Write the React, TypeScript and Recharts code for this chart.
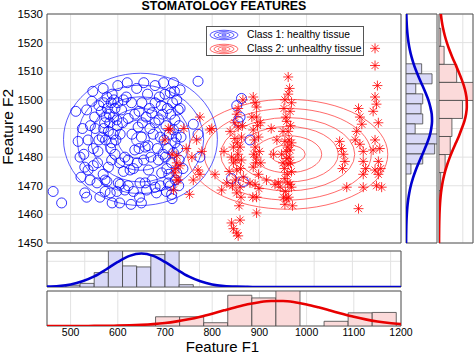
import {
  Bar,
  BarChart,
  CartesianGrid,
  Line,
  LineChart,
  ReferenceArea,
  Scatter,
  ScatterChart,
  XAxis,
  YAxis,
} from "recharts";

const FONT = '"Liberation Sans", Arial, Helvetica, sans-serif';
const GRID = "#e2e2e2";
const FRAME = "#555555";
const BLUE = "#0000ff";
const RED = "#ff0000";
const BLUE_LINE = "#0000d0";
const RED_LINE = "#e80000";
const BLUE_FILL = "#d9d9f7";
const RED_FILL = "#fbdada";

const X_TICKS = [500, 600, 700, 800, 900, 1000, 1100, 1200];
const Y_TICKS = [1450, 1460, 1470, 1480, 1490, 1500, 1510, 1520, 1530];
const BLUE_HIST_GRID = [530, 611, 692, 773, 854, 935, 1016, 1097, 1178];

// class 1, circles
const classOne: [number, number][] = [
  [718, 1506], [732, 1503.5], [711, 1502.5], [725, 1500], [728, 1496.5], [721, 1493],
  [718, 1489.5], [721, 1485], [718, 1481.5], [714, 1478], [725, 1474.5], [711, 1470],
  [714, 1467], [707, 1471], [697, 1506], [705, 1497], [712, 1495], [730, 1491],
  [709, 1488], [727, 1483], [706, 1483], [730, 1479], [704, 1476], [729, 1470],
  [722, 1472], [716, 1499], [700, 1502], [734, 1487], [702, 1491], [715, 1465.5],
  [679, 1505], [679, 1499], [672, 1495.5], [679, 1492], [686, 1479], [693, 1474.5],
  [679, 1469.5], [682, 1467.5], [690, 1487], [684, 1483], [695, 1495], [688, 1501],
  [675, 1488], [696, 1481],
  [640, 1504], [629, 1499], [651, 1499], [643, 1490.5], [658, 1483.5], [665, 1475.5],
  [658, 1471], [636, 1482.5], [615, 1480], [626, 1475.5], [608, 1496.5], [622, 1493.5],
  [630, 1488], [633, 1468], [661, 1468.5], [647, 1471], [615, 1468.5], [622, 1470],
  [660, 1494], [650, 1487], [641, 1478], [655, 1479], [645, 1496], [663, 1502],
  [618, 1501], [628, 1463.5], [650, 1464], [620, 1506], [655, 1506], [600, 1505],
  [569, 1504], [587, 1479], [580, 1476.5], [573, 1472], [601, 1471], [587, 1485],
  [598, 1493], [569, 1474], [573, 1468], [598, 1468], [584, 1467.5], [577, 1471.5],
  [605, 1470.5], [562, 1466], [570, 1499], [578, 1497], [586, 1499], [594, 1497],
  [575, 1494], [583, 1492], [591, 1494], [599, 1491], [570, 1490], [580, 1489],
  [590, 1488], [596, 1486], [574, 1486], [600, 1499], [588, 1502], [577, 1501],
  [511, 1496], [530, 1476.5], [520, 1480], [516, 1485.5], [537, 1486], [534, 1496.5],
  [545, 1499.5], [537, 1475.5], [541, 1472], [534, 1466], [530, 1467.5], [552, 1490],
  [548, 1483], [557, 1478], [551, 1494], [560, 1486], [556, 1471], [525, 1490],
  [547, 1503],
  [565, 1496], [572, 1492], [582, 1495], [592, 1500], [567, 1487], [585, 1483],
  [594, 1481], [605, 1488], [610, 1492], [604, 1478], [612, 1475], [622, 1479],
  [633, 1476], [645, 1483], [652, 1492], [668, 1490], [664, 1484], [670, 1480],
  [673, 1472], [687, 1493], [692, 1498], [698, 1486], [701, 1480], [708, 1474],
  [724, 1487], [732, 1497], [720, 1503], [703, 1468], [738, 1476], [690, 1470],
  [646, 1466], [604, 1464], [588, 1464], [560, 1498], [542, 1491], [528, 1481],
  [522, 1473], [548, 1477], [558, 1482], [667, 1497], [636, 1495], [612, 1500],
  [463, 1468], [481, 1464], [770, 1506.5], [760, 1491.5], [770, 1488], [774, 1480],
  [862, 1500.5], [852, 1498], [859, 1494], [855, 1492.5], [880, 1486], [866, 1471.5],
  [841, 1472.5],
];

// class 2, asterisks
const classTwo: [number, number][] = [
  [707, 1490], [725, 1478], [732, 1477], [725, 1480.5], [728, 1472], [718, 1468.5],
  [711, 1489.5], [721, 1474.5], [725, 1472], [715, 1481], [700, 1486], [722, 1476],
  [774, 1494], [767, 1486], [778, 1482], [770, 1475.5], [774, 1474], [760, 1472],
  [757, 1480], [745, 1483], [740, 1490], [752, 1467],
  [799, 1490], [806, 1474], [820, 1468.5], [795, 1489.5], [825, 1482], [831, 1471],
  [852, 1495], [855, 1490.5], [848, 1486.5], [859, 1483.5], [841, 1480], [862, 1479],
  [852, 1475.5], [866, 1473], [859, 1469.5], [852, 1467.5], [845, 1483.5], [855, 1497],
  [862, 1487], [845, 1478], [855, 1481], [849, 1472], [860, 1476], [853, 1485],
  [841, 1457], [852, 1453.5], [859, 1458], [845, 1455], [855, 1452.5], [880, 1471],
  [848, 1492], [865, 1500], [857, 1463], [838, 1489], [864, 1491], [850, 1479],
  [843, 1470], [861, 1466], [836, 1475],
  [891, 1499], [894, 1494], [887, 1489.5], [898, 1487], [891, 1483.5], [894, 1480],
  [887, 1476.5], [898, 1474], [891, 1470.5], [894, 1466], [894, 1460.5], [915, 1472],
  [887, 1501], [894, 1497.5], [892, 1478], [889, 1486], [896, 1491], [899, 1469],
  [886, 1466], [900, 1482], [930, 1481], [925, 1490], [884, 1494], [903, 1478],
  [888, 1481], [902, 1492],
  [961, 1508], [961, 1502], [954, 1500], [965, 1496], [958, 1492.5], [961, 1489],
  [954, 1485.5], [965, 1482.5], [958, 1479.5], [961, 1477.5], [968, 1475], [954, 1472.5],
  [965, 1470.5], [958, 1465.5], [954, 1463.5], [944, 1469.5], [968, 1469.5], [937, 1486],
  [956, 1494], [963, 1486], [957, 1482], [959, 1474], [963, 1480], [950, 1478],
  [966, 1491], [955, 1468], [962, 1466], [950, 1489], [968, 1485], [940, 1471],
  [933, 1470.5], [952, 1497], [968, 1499], [960, 1483.5], [953, 1476], [966, 1478],
  [960, 1471], [951, 1466], [970, 1463], [947, 1481], [964, 1504],
  [1074, 1483], [1078, 1481], [1081, 1478.5], [1085, 1469.5], [1070, 1485.5], [1076, 1476],
  [1113, 1494], [1117, 1491.5], [1106, 1489], [1113, 1484.5], [1120, 1482], [1120, 1478.5],
  [1120, 1474], [1120, 1469.5], [1110, 1462], [1110, 1497], [1103, 1486], [1125, 1476],
  [1145, 1518], [1145, 1512], [1145, 1501], [1148, 1498.5], [1141, 1496], [1152, 1492],
  [1145, 1486], [1141, 1482.5], [1152, 1478.5], [1145, 1475.5], [1152, 1474], [1159, 1469.5],
  [1150, 1505], [1155, 1483], [1148, 1470], [1157, 1476],
];

// contour ellipses: centre + semi-axes in data units
const blueCentre = [648, 1486.2];
const blueRx = [163, 134, 105, 76, 48, 19];
const blueRy = [23.1, 19, 14.9, 10.8, 6.8, 2.7];
const redCentre = [960, 1481];
const redRx = [212, 177, 142, 107, 72, 37];
const redRy = [19.2, 16, 12.8, 9.7, 6.5, 3.3];

// bottom histograms (feature F1)
const f1BinsBlue = [505, 535, 565, 595, 625, 655, 685, 715, 745];
const f1CountsBlue = [0.7, 1.4, 5.6, 14, 8.2, 7.8, 12.6, 14, 0.9];
const f1BinsRed = [705.5, 756.5, 807.5, 858.5, 909.5, 960.5, 1011.5, 1062.5, 1113.5, 1164.5];
const f1CountsRed = [12.4, 12.4, 4.4, 41.3, 37.7, 47, 0, 6.3, 17.7, 18.2];

const f1CurveX = [
  450, 475, 500, 525, 550, 575, 600, 625, 650, 675, 700, 725, 750, 775, 800, 825,
  850, 875, 900, 925, 950, 975, 1000, 1025, 1050, 1075, 1100, 1125, 1150, 1175, 1200,
];
const f1CurveBlue = [
  0.13, 0.39, 0.98, 2.2, 4.1, 6.8, 9.75, 12.1, 13, 12.1, 9.75, 6.8, 4.1, 2.2, 0.98, 0.39,
  0.13, 0.04, 0.01, 0, 0, 0, 0, 0, 0, 0, 0, 0, 0, 0, 0,
];
const f1CurveRed = [
  0, 0.01, 0.02, 0.05, 0.12, 0.24, 0.46, 0.85, 1.5, 2.5, 4, 6.2, 9, 12.5, 16.6, 21,
  25.3, 29.2, 32, 33.5, 33.5, 31.9, 29, 25.1, 20.8, 16.4, 12.3, 8.9, 6.1, 4, 2.5,
];

// side histograms (feature F2)
const f2BinsBlue = [1469.15, 1472.65, 1476.15, 1479.65, 1483.15, 1486.65, 1490.15, 1493.65, 1497.15, 1500.65, 1504.15];
const f2CountsBlue = [10.1, 16.8, 6.3, 10.8, 9.7, 10.8, 5.9, 20, 18.5, 10.8, 3.2];
const f2BinsRed = [1458.15, 1464.45, 1470.75, 1477.05, 1483.35, 1489.65, 1495.95, 1502.25, 1508.55, 1514.85];
const f2CountsRed = [1, 3, 10.4, 20, 13.8, 7.6, 6.6, 3.6, 1, 0.6];

const f2CurveY = [
  1450, 1452.5, 1455, 1457.5, 1460, 1462.5, 1465, 1467.5, 1470, 1472.5, 1475, 1477.5,
  1480, 1482.5, 1485, 1487.5, 1490, 1492.5, 1495, 1497.5, 1500, 1502.5, 1505, 1507.5,
  1510, 1512.5, 1515, 1517.5, 1520, 1522.5, 1525, 1527.5, 1530,
];
const f2CurveBlue = [
  0.21, 0.37, 0.63, 1.04, 1.63, 2.46, 3.57, 4.97, 6.66, 8.57, 10.6, 12.6, 14.4, 15.7,
  16.6, 16.8, 16.3, 15.3, 13.7, 11.8, 9.8, 7.8, 5.96, 4.38, 3.09, 2.1, 1.37, 0.86, 0.52,
  0.3, 0.17, 0.09, 0.05,
];
const f2CurveRed = [
  1.08, 1.63, 2.39, 3.38, 4.62, 6.09, 7.77, 9.58, 11.4, 13.1, 14.6, 15.7, 16.3, 16.35,
  15.9, 14.9, 13.4, 11.8, 9.95, 8.1, 6.4, 4.89, 3.6, 2.57, 1.77, 1.17, 0.75, 0.47, 0.28,
  0.16, 0.09, 0.05, 0.03,
];

const toPts = (arr: [number, number][]) => arr.map(([x, y]) => ({ x, y }));
const binRows = (c: number[], n: number[]) => c.map((x, i) => ({ x, n: n[i] }));
const sideRows = (c: number[], n: number[]) => c.map((y, i) => ({ y, w: n[i] }));

function Ring(p: any) {
  return <circle cx={p.cx} cy={p.cy} r={5} fill="none" stroke={BLUE} strokeWidth={0.8} />;
}

function Star(p: any) {
  const { cx, cy } = p;
  const r = 5;
  const d = 3.5;
  return (
    <path
      d={`M${cx - r},${cy}H${cx + r}M${cx},${cy - r}V${cy + r}M${cx - d},${cy - d}L${cx + d},${cy + d}M${cx - d},${cy + d}L${cx + d},${cy - d}`}
      stroke={RED}
      strokeWidth={0.8}
      fill="none"
    />
  );
}

const ellipseShape = (color: string) => (p: any) => (
  <ellipse
    cx={p.x + p.width / 2}
    cy={p.y + p.height / 2}
    rx={Math.abs(p.width) / 2}
    ry={Math.abs(p.height) / 2}
    fill="none"
    stroke={color}
    strokeWidth={0.8}
  />
);

const tickFont = { fontSize: 11.5, fill: "#000", fontFamily: FONT };

function LegendIcon({ color }: { color: string }) {
  return (
    <svg width={32} height={12} style={{ display: "block" }}>
      {[14, 10, 6, 2.5].map((rx, i) => (
        <ellipse key={i} cx={16} cy={6} rx={rx} ry={rx * 0.34} fill="none" stroke={color} strokeWidth={0.8} />
      ))}
    </svg>
  );
}

export default function App() {
  const f1Blue = binRows(f1BinsBlue, f1CountsBlue);
  const f1Red = binRows(f1BinsRed, f1CountsRed);
  const f1Curves = f1CurveX.map((x, i) => ({ x, b: f1CurveBlue[i], r: f1CurveRed[i] }));
  const f2Blue = sideRows(f2BinsBlue, f2CountsBlue);
  const f2Red = sideRows(f2BinsRed, f2CountsRed);
  const f2Curves = f2CurveY.map((y, i) => ({ y, b: f2CurveBlue[i], r: f2CurveRed[i] }));
  const px = 354 / 750;

  return (
    <div style={{ position: "absolute", left: 0, top: 0, width: 474, height: 354, background: "#fff", fontFamily: FONT, overflow: "hidden" }}>
      {/* main scatter */}
      <div style={{ position: "absolute", left: 0, top: 0 }}>
        <ScatterChart width={402} height={254} margin={{ top: 14, right: 1, bottom: 11, left: 0 }}>
          <CartesianGrid stroke={GRID} />
          <XAxis type="number" dataKey="x" domain={[450, 1200]} ticks={X_TICKS} hide allowDataOverflow />
          <YAxis
            type="number"
            dataKey="y"
            domain={[1450, 1530]}
            ticks={Y_TICKS}
            interval={0}
            width={47}
            tickSize={0}
            tickMargin={4}
            axisLine={false}
            tickLine={false}
            tick={tickFont}
            allowDataOverflow
          />
          {blueRx.map((rx, i) => (
            <ReferenceArea
              key={`b${i}`}
              x1={blueCentre[0] - rx}
              x2={blueCentre[0] + rx}
              y1={blueCentre[1] - blueRy[i]}
              y2={blueCentre[1] + blueRy[i]}
              shape={ellipseShape("#3030ff")}
            />
          ))}
          {redRx.map((rx, i) => (
            <ReferenceArea
              key={`r${i}`}
              x1={redCentre[0] - rx}
              x2={redCentre[0] + rx}
              y1={redCentre[1] - redRy[i]}
              y2={redCentre[1] + redRy[i]}
              shape={ellipseShape("#ff4545")}
            />
          ))}
          <Scatter data={toPts(classOne)} shape={Ring} isAnimationActive={false} />
          <Scatter data={toPts(classTwo)} shape={Star} isAnimationActive={false} />
          <ReferenceArea x1={450} x2={1200} y1={1450} y2={1530} fill="none" stroke={FRAME} strokeWidth={1} ifOverflow="visible" />
        </ScatterChart>
      </div>

      {/* bottom: class 1 on F1 */}
      <div style={{ position: "absolute", left: 0, top: 250 }}>
        <BarChart width={474} height={38} data={f1Blue} margin={{ top: 1, right: 73, bottom: 1, left: 47 }}>
          <CartesianGrid stroke={GRID} />
          <XAxis type="number" dataKey="x" domain={[450, 1200]} ticks={BLUE_HIST_GRID} hide allowDataOverflow />
          <YAxis type="number" domain={[0, 14]} ticks={[10]} hide allowDataOverflow />
          <Bar dataKey="n" barSize={30 * px - 0.02} fill={BLUE_FILL} stroke="#444" strokeWidth={0.8} isAnimationActive={false} />
          <ReferenceArea x1={450} x2={1200} y1={0} y2={14} fill="none" stroke={FRAME} ifOverflow="visible" />
        </BarChart>
      </div>
      <div style={{ position: "absolute", left: 0, top: 250 }}>
        <LineChart width={474} height={38} data={f1Curves} margin={{ top: 1, right: 73, bottom: 1, left: 47 }}>
          <XAxis type="number" dataKey="x" domain={[450, 1200]} hide allowDataOverflow />
          <YAxis type="number" domain={[0, 14]} hide allowDataOverflow />
          <Line type="monotone" dataKey="b" stroke={BLUE_LINE} strokeWidth={2.6} dot={false} isAnimationActive={false} />
        </LineChart>
      </div>

      {/* bottom: class 2 on F1 */}
      <div style={{ position: "absolute", left: 0, top: 290 }}>
        <BarChart width={474} height={56} data={f1Red} margin={{ top: 1, right: 73, bottom: 0, left: 47 }}>
          <CartesianGrid stroke={GRID} />
          <XAxis
            type="number"
            dataKey="x"
            domain={[450, 1200]}
            ticks={X_TICKS}
            interval={0}
            height={20}
            tickSize={0}
            tickMargin={2.5}
            axisLine={false}
            tickLine={false}
            tick={{ ...tickFont, fontSize: 10.5 }}
            allowDataOverflow
          />
          <YAxis type="number" domain={[0, 47]} ticks={[40]} hide allowDataOverflow />
          <Bar dataKey="n" barSize={51 * px - 0.02} fill={RED_FILL} stroke="#444" strokeWidth={0.8} isAnimationActive={false} />
          <ReferenceArea x1={450} x2={1200} y1={0} y2={47} fill="none" stroke={FRAME} ifOverflow="visible" />
        </BarChart>
      </div>
      <div style={{ position: "absolute", left: 0, top: 290 }}>
        <LineChart width={474} height={56} data={f1Curves} margin={{ top: 1, right: 73, bottom: 20, left: 47 }}>
          <XAxis type="number" dataKey="x" domain={[450, 1200]} hide allowDataOverflow />
          <YAxis type="number" domain={[0, 47]} hide allowDataOverflow />
          <Line type="monotone" dataKey="r" stroke={RED_LINE} strokeWidth={2.6} dot={false} isAnimationActive={false} />
        </LineChart>
      </div>

      {/* right: class 1 on F2 */}
      <div style={{ position: "absolute", left: 405, top: 0 }}>
        <BarChart layout="vertical" width={33} height={244} data={f2Blue} margin={{ top: 14, right: 1, bottom: 1, left: 1 }}>
          <CartesianGrid stroke={GRID} vertical={false} />
          <XAxis type="number" domain={[0, 20]} hide allowDataOverflow />
          <YAxis type="number" dataKey="y" domain={[1450, 1530]} ticks={Y_TICKS} hide allowDataOverflow />
          <Bar dataKey="w" barSize={3.5 * 2.8625 - 0.02} fill={BLUE_FILL} stroke="#444" strokeWidth={0.8} isAnimationActive={false} />
          <ReferenceArea x1={0} x2={20} y1={1450} y2={1530} fill="none" stroke={FRAME} ifOverflow="visible" />
        </BarChart>
      </div>
      <div style={{ position: "absolute", left: 405, top: 0 }}>
        <LineChart layout="vertical" width={33} height={244} data={f2Curves} margin={{ top: 14, right: 1, bottom: 1, left: 1 }}>
          <XAxis type="number" domain={[0, 20]} hide allowDataOverflow />
          <YAxis type="number" dataKey="y" domain={[1450, 1530]} hide allowDataOverflow />
          <Line type="monotone" dataKey="b" stroke={BLUE_LINE} strokeWidth={2.6} dot={false} isAnimationActive={false} />
        </LineChart>
      </div>

      {/* right: class 2 on F2 */}
      <div style={{ position: "absolute", left: 438, top: 0 }}>
        <BarChart layout="vertical" width={36} height={244} data={f2Red} margin={{ top: 14, right: 1, bottom: 1, left: 1 }}>
          <CartesianGrid stroke={GRID} />
          <XAxis type="number" domain={[0, 20]} ticks={[14]} hide allowDataOverflow />
          <YAxis type="number" dataKey="y" domain={[1450, 1530]} ticks={Y_TICKS} hide allowDataOverflow />
          <Bar dataKey="w" barSize={6.3 * 2.8625 - 0.02} fill={RED_FILL} stroke="#444" strokeWidth={0.8} isAnimationActive={false} />
          <ReferenceArea x1={0} x2={20} y1={1450} y2={1530} fill="none" stroke={FRAME} ifOverflow="visible" />
        </BarChart>
      </div>
      <div style={{ position: "absolute", left: 438, top: 0 }}>
        <LineChart layout="vertical" width={36} height={244} data={f2Curves} margin={{ top: 14, right: 1, bottom: 1, left: 1 }}>
          <XAxis type="number" domain={[0, 20]} hide allowDataOverflow />
          <YAxis type="number" dataKey="y" domain={[1450, 1530]} hide allowDataOverflow />
          <Line type="monotone" dataKey="r" stroke={RED_LINE} strokeWidth={2.6} dot={false} isAnimationActive={false} />
        </LineChart>
      </div>

      {/* title, axis labels, legend */}
      <div style={{ position: "absolute", left: 0, top: -0.5, width: 448, textAlign: "center", fontSize: 12.4, lineHeight: 1, fontWeight: 700 }}>
        STOMATOLOGY FEATURES
      </div>
      <div style={{ position: "absolute", left: 0, top: 339, width: 445, textAlign: "center", fontSize: 15, lineHeight: 1 }}>
        Feature F1
      </div>
      <div
        style={{
          position: "absolute",
          left: 8 - 50,
          top: 127 - 7.75,
          width: 100,
          height: 15.5,
          textAlign: "center",
          fontSize: 15.5,
          lineHeight: 1,
          transform: "rotate(-90deg)",
        }}
      >
        Feature F2
      </div>
      <div
        style={{
          position: "absolute",
          left: 206,
          top: 26,
          width: 156,
          height: 28,
          border: `1px solid ${FRAME}`,
          background: "#fff",
          fontSize: 10.3,
          lineHeight: 1,
        }}
      >
        {[
          { c: "#3030ff", t: "Class 1: healthy tissue" },
          { c: "#ff4545", t: "Class 2: unhealthy tissue" },
        ].map((e, i) => (
          <div key={i} style={{ position: "absolute", left: 1, top: 2 + i * 14, display: "flex", alignItems: "center", height: 12 }}>
            <LegendIcon color={e.c} />
            <span style={{ marginLeft: 7, whiteSpace: "nowrap" }}>{e.t}</span>
          </div>
        ))}
      </div>
    </div>
  );
}
